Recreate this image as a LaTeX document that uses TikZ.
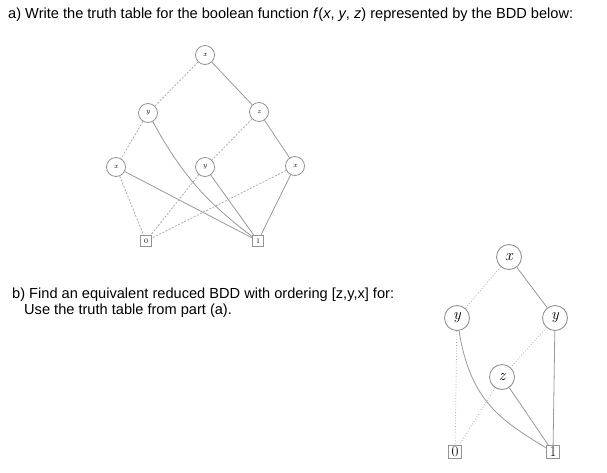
\documentclass[tikz,border=0pt]{standalone}
\usepackage{fontspec}
\setmainfont{Liberation Sans}
\begin{document}
\begin{tikzpicture}[x=1pt,y=-1pt,
 sn/.style={circle,draw=gray!85,line width=0.8pt,minimum size=19pt,inner sep=0pt,font=\fontspec{Latin Modern Roman}\itshape\fontsize{7}{8}\selectfont},
 bn/.style={circle,draw=gray!85,line width=0.9pt,minimum size=25pt,inner sep=0pt,font=\fontspec{Latin Modern Roman}\itshape\fontsize{16}{18}\selectfont},
 st/.style={draw=gray!85,line width=0.7pt,minimum size=11pt,inner sep=0pt,font=\fontspec{Latin Modern Roman}\fontsize{7}{8}\selectfont},
 bt/.style={draw=gray!85,line width=0.9pt,minimum size=13pt,inner sep=0pt,font=\fontspec{Latin Modern Roman}\fontsize{15}{16}\selectfont},
 hi/.style={draw=gray!80,line width=0.8pt},
 lo/.style={draw=gray!65,line width=0.8pt,dash pattern=on 2pt off 1.5pt},
 dt/.style={draw=gray!65,line width=0.8pt,dotted},
 txt/.style={anchor=west,inner sep=0pt,font=\fontsize{14.6}{16}\selectfont}]
\useasboundingbox (0,0) rectangle (607,472);
\node[txt] (ta) at (8,15) {a) Write the truth table for the boolean function \textit{f}(\textit{x}, \textit{y}, \textit{z}) represented by the BDD below:};
\node[txt] (tb) at (12,295) {b) Find an equivalent reduced BDD with ordering [z,y,x] for:};
\node[txt] (tc) at (24,311) {Use the truth table from part (a).};
% top BDD
\node[sn] (a1) at (205,55) {x};
\node[sn] (a2) at (148,113) {y};
\node[sn] (a3) at (259,112) {z};
\node[sn] (a4) at (116,167) {x};
\node[sn] (a5) at (205,167) {y};
\node[sn] (a6) at (295,166) {x};
\node[st] (a0) at (146,241) {0};
\node[st] (aI) at (258,241) {1};
\draw[lo] (a1)--(a2); \draw[hi] (a1)--(a3);
\draw[lo] (a2)--(a4); \draw[hi] (a2) to[bend right=12] (aI);
\draw[lo] (a3)--(a5); \draw[hi] (a3)--(a6);
\draw[lo] (a4)--(a0); \draw[hi] (a4)--(aI);
\draw[lo] (a5)--(a0); \draw[hi] (a5)--(aI);
\draw[lo] (a6)--(a0); \draw[hi] (a6)--(aI);
% bottom BDD
\node[bn] (b1) at (509,257) {x};
\node[bn] (b2) at (457,318) {y};
\node[bn] (b3) at (555,318) {y};
\node[bn] (b4) at (502,377) {z};
\node[bt] (b0) at (455,452) {0};
\node[bt] (bI) at (553,452) {1};
\draw[dt] (b1)--(b2); \draw[hi] (b1)--(b3);
\draw[dt] (b2)--(b0); \draw[hi] (b2) .. controls (470,400) and (500,420) .. (bI);
\draw[dt] (b3)--(b4); \draw[hi] (b3)--(bI);
\draw[dt] (b4)--(b0); \draw[hi] (b4)--(bI);
\end{tikzpicture}
\end{document}
